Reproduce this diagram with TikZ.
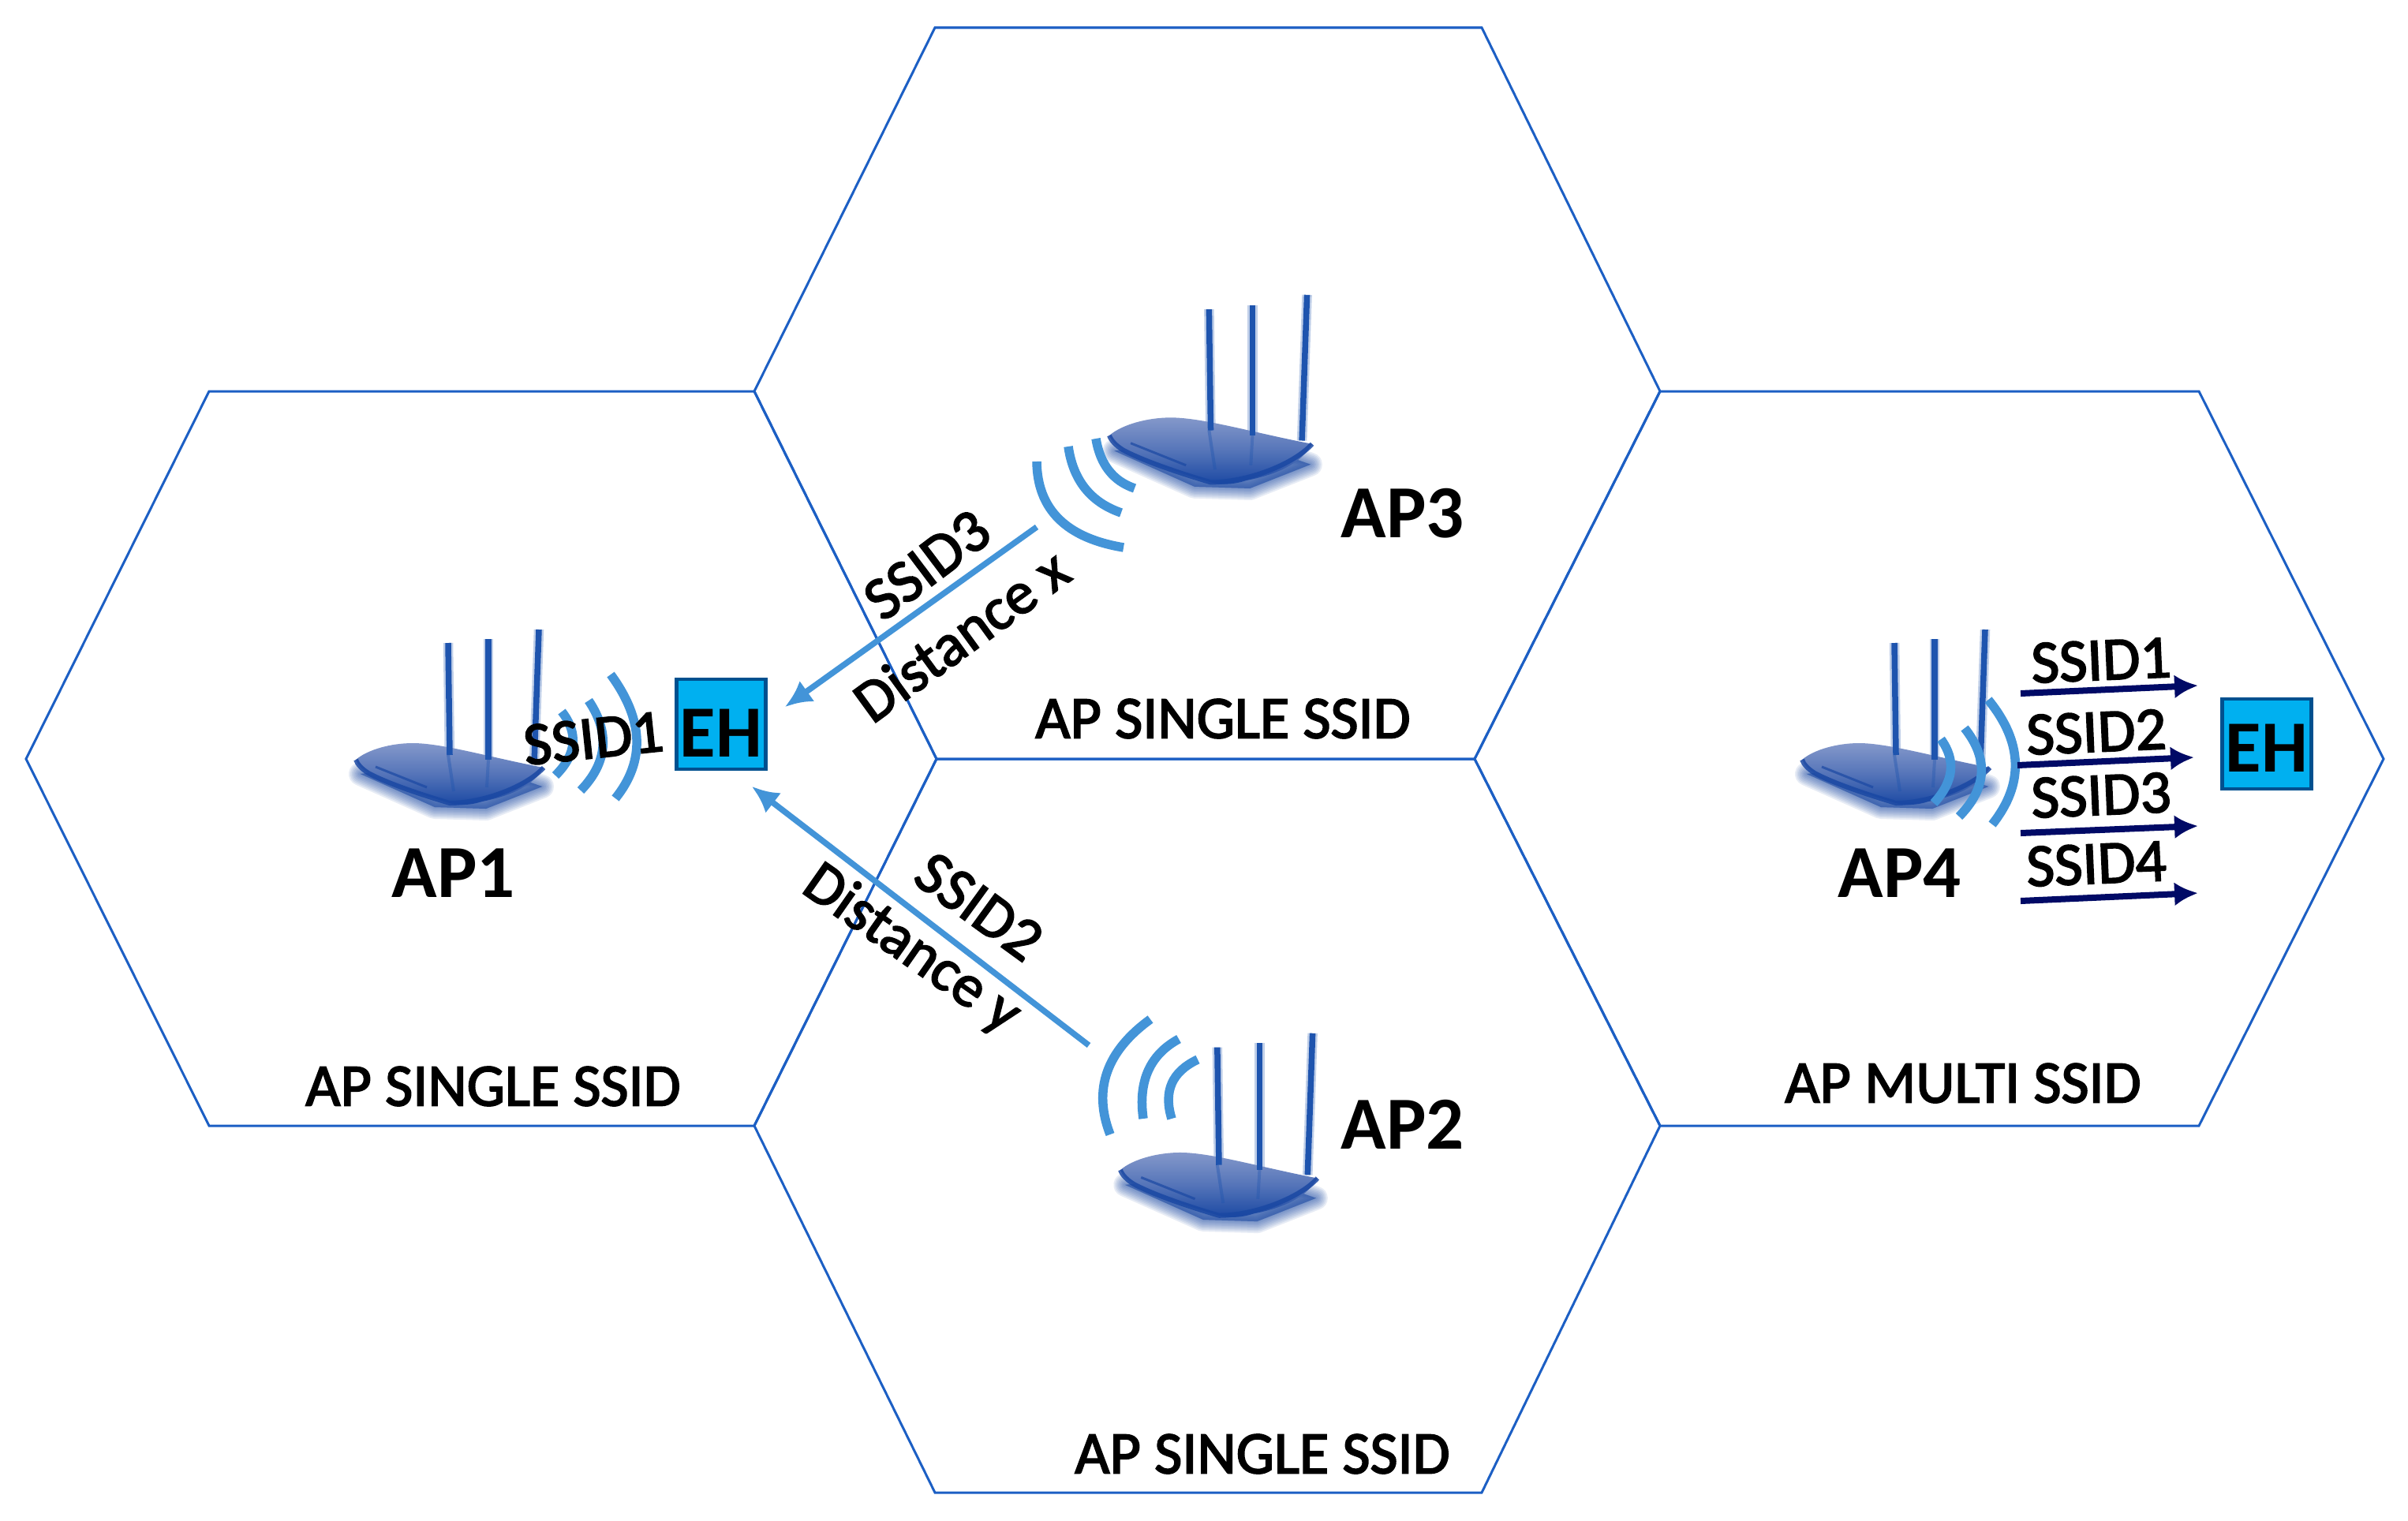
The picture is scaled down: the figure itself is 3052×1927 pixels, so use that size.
\documentclass[tikz,border=0pt]{standalone}
\usepackage{fontspec}
\setmainfont{Carlito}
\newfontfamily\medfont[FakeBold=2.4]{Carlito}
\usetikzlibrary{arrows.meta,calc}
\definecolor{hexc}{HTML}{1C5FC4}
\definecolor{wave}{HTML}{4394D8}
\definecolor{navy}{HTML}{000A66}
\definecolor{ehfill}{HTML}{00B0F0}
\definecolor{ehline}{HTML}{00508F}
\definecolor{rdark}{HTML}{1A48A3}
\definecolor{rlight}{HTML}{8498CA}
\definecolor{ant}{HTML}{1E54AE}
\tikzset{
  hexcell/.style={draw=hexc,line width=0.03cm,line join=miter},
  wavearc/.style={draw=wave,line width=0.115cm},
  link/.style={draw=wave,line width=0.075cm,-{Latex[length=0.34cm,width=0.32cm]}},
  feed/.style={draw=navy,line width=0.08cm,-{Latex[length=0.3cm,width=0.3cm]}},
  ehbox/.style={draw=ehline,fill=ehfill,line width=0.045cm,minimum width=1.13cm,minimum height=1.14cm,inner sep=0pt,font=\fontsize{26.5}{26.5}\selectfont\bfseries},
  aplabel/.style={inner sep=0pt,font=\fontsize{27}{27}\selectfont\bfseries},
  celllabel/.style={inner sep=0pt,font=\fontsize{21.7}{22}\selectfont\medfont},
  ssidlabel/.style={inner sep=0pt,font=\fontsize{22}{22}\selectfont\medfont},
  distlabel/.style={inner sep=0pt,font=\fontsize{21.7}{22}\selectfont\medfont},
  antenna/.style={draw=ant,line width=0.075cm},
  antennahalo/.style={draw=ant,line width=0.125cm,opacity=.28}
}
\newcommand{\wavecurve}[3]{%
  \draw[wavearc] (#1) .. controls ($(#1)!0.667!(#2)$) and ($(#3)!0.667!(#2)$) .. (#3);}
\newcommand{\routerpic}[3]{%
  \begin{scope}[shift={(#1,#2)},scale=#3]
    \foreach \w in {30,26,22,18,14,10,6,2}{
      \fill[rdark,draw=rdark,line width=\w*0.01cm,line join=round,opacity=.1]
        (6,18) -- (100,60) -- (165,62) -- (236,34) -- (190,18) -- (40,14) -- cycle;
    }
    \foreach \xa/\xb/\yt/\yb in {117/119/-148/2,168/168/-153/2,232/226/-165/6}{
      \draw[antennahalo] (\xa,\yt) -- (\xb,\yb);
    }
    \path[top color=rlight,bottom color=rdark,middle color=rlight!55!rdark]
      (0,0) .. controls (15,-13) and (45,-21) .. (72,-21)
      .. controls (110,-21) and (170,-3) .. (238,10)
      .. controls (225,32) and (200,45) .. (160,53)
      .. controls (145,58) and (130,58) .. (119,55)
      .. controls (85,45) and (40,30) .. (16,17)
      .. controls (8,12) and (2,6) .. (0,0) -- cycle;
    \draw[rdark,line width=0.06cm,line join=round,opacity=.85]
      (0,0) .. controls (2,6) and (8,12) .. (16,17)
      .. controls (40,30) and (85,45) .. (119,55)
      .. controls (160,55) and (215,35) .. (238,10);
    \draw[rdark,line width=0.03cm,opacity=.7] (25,9) -- (90,35);
    \foreach \xa/\xb/\yt/\yb in {117/119/-148/-6,168/168/-153/0,232/226/-165/6}{
      \draw[antenna] (\xa,\yt) -- (\xb,\yb);
    }
    \draw[ant,line width=0.04cm,opacity=.4] (117,-6) -- (124,40);
    \draw[ant,line width=0.04cm,opacity=.35] (168,0) -- (166,35);
  \end{scope}}
\begin{document}
\begin{tikzpicture}[x=0.01cm,y=-0.01cm]
\useasboundingbox (0,0) rectangle (3052,1927);
\fill[white] (0,0) rectangle (3052,1927);
% cells
\draw[hexcell] (33,962) -- (265,496) -- (956,496) -- (1187,962) -- (956,1427) -- (265,1427) -- cycle;
\draw[hexcell] (956,496) -- (1185,35) -- (1878,35) -- (2104,496) -- (1869,962) -- (1187,962) -- cycle;
\draw[hexcell] (1187,962) -- (1869,962) -- (2104,1427) -- (1878,1892) -- (1185,1892) -- (956,1427) -- cycle;
\draw[hexcell] (2104,496) -- (2787,496) -- (3021,962) -- (2787,1427) -- (2104,1427) -- (1869,962) -- cycle;
% routers
\routerpic{451}{963}{1}
\routerpic{1406}{552}{1.08}
\routerpic{1420}{1483}{1.05}
\routerpic{2284}{963}{1}
% waves AP1
\wavecurve{712,902}{744,943}{704,983}
\wavecurve{746,888}{787,949}{736,1002}
\wavecurve{774,855}{837,941}{780,1012}
% waves AP3
\wavecurve{1389,556}{1397,605}{1438,619}
\wavecurve{1354,566}{1363,630}{1421,650}
\wavecurve{1314,585}{1315,676}{1424,694}
% waves AP2
\wavecurve{1518,1343}{1469,1366}{1485,1418}
\wavecurve{1494,1317}{1439,1347}{1449,1418}
\wavecurve{1458,1292}{1374,1353}{1407,1438}
% waves AP4
\wavecurve{2460,937}{2489,977}{2451,1018}
\wavecurve{2490,923}{2536,981}{2483,1035}
\wavecurve{2520,887}{2586,968}{2525,1045}
% EH boxes
\node[ehbox] (eh1) at (914,918) {\raisebox{-0.11cm}[\height][\depth]{EH}};
\node[ehbox] (eh4) at (2873,943) {\raisebox{-0.05cm}[\height][\depth]{EH}};
% link end points
\coordinate (src3) at (1314,668);
\coordinate (tip3) at (995,896);
\coordinate (src2) at (1380,1325);
\coordinate (tip2) at (953,997);
\draw[link] (src3) -- (tip3);
\draw[link] (src2) -- (tip2);
% feed arrows
\foreach \n/\ya/\yb/\xa/\xb in {1/879/869/2561/2786,2/970/960/2557/2781,3/1056/1047/2561/2786,4/1142/1132/2561/2786}{
  \coordinate (fa\n) at (\xa,\ya);
  \coordinate (fb\n) at (\xb,\yb);
  \draw[feed] (fa\n) -- (fb\n);
}
% labels
\node[ssidlabel,rotate=6] (s1) at (752,936) {SSID1};
\node[ssidlabel,rotate=2.5] (f1) at (2663,837) {SSID1};
\node[ssidlabel,rotate=2.5] (f2) at (2657,928) {SSID2};
\node[ssidlabel,rotate=2.5] (f3) at (2663,1008) {SSID3};
\node[ssidlabel,rotate=2.5] (f4) at (2657,1095) {SSID4};
\node[ssidlabel,rotate=37] (s3) at (1175,716) {SSID3};
\node[distlabel,rotate=36] (d3) at (1218,805) {Distance x};
\node[ssidlabel,rotate=-36] (s2) at (1241,1149) {SSID2};
\node[distlabel,rotate=-35] (d2) at (1155,1204) {Distance y};
\node[aplabel] (ap1) at (575,1107) {AP1};
\node[aplabel] (ap3) at (1778,651) {AP3};
\node[aplabel] (ap2) at (1778,1425) {AP2};
\node[aplabel] (ap4) at (2408,1107) {AP4};
\node[celllabel] (c1) at (625,1377) {AP SINGLE SSID};
\node[celllabel] (c3) at (1550,911) {AP SINGLE SSID};
\node[celllabel] (c2) at (1600,1843) {AP SINGLE SSID};
\node[celllabel] (c4) at (2488,1373) {AP MULTI SSID};
\end{tikzpicture}
\end{document}
